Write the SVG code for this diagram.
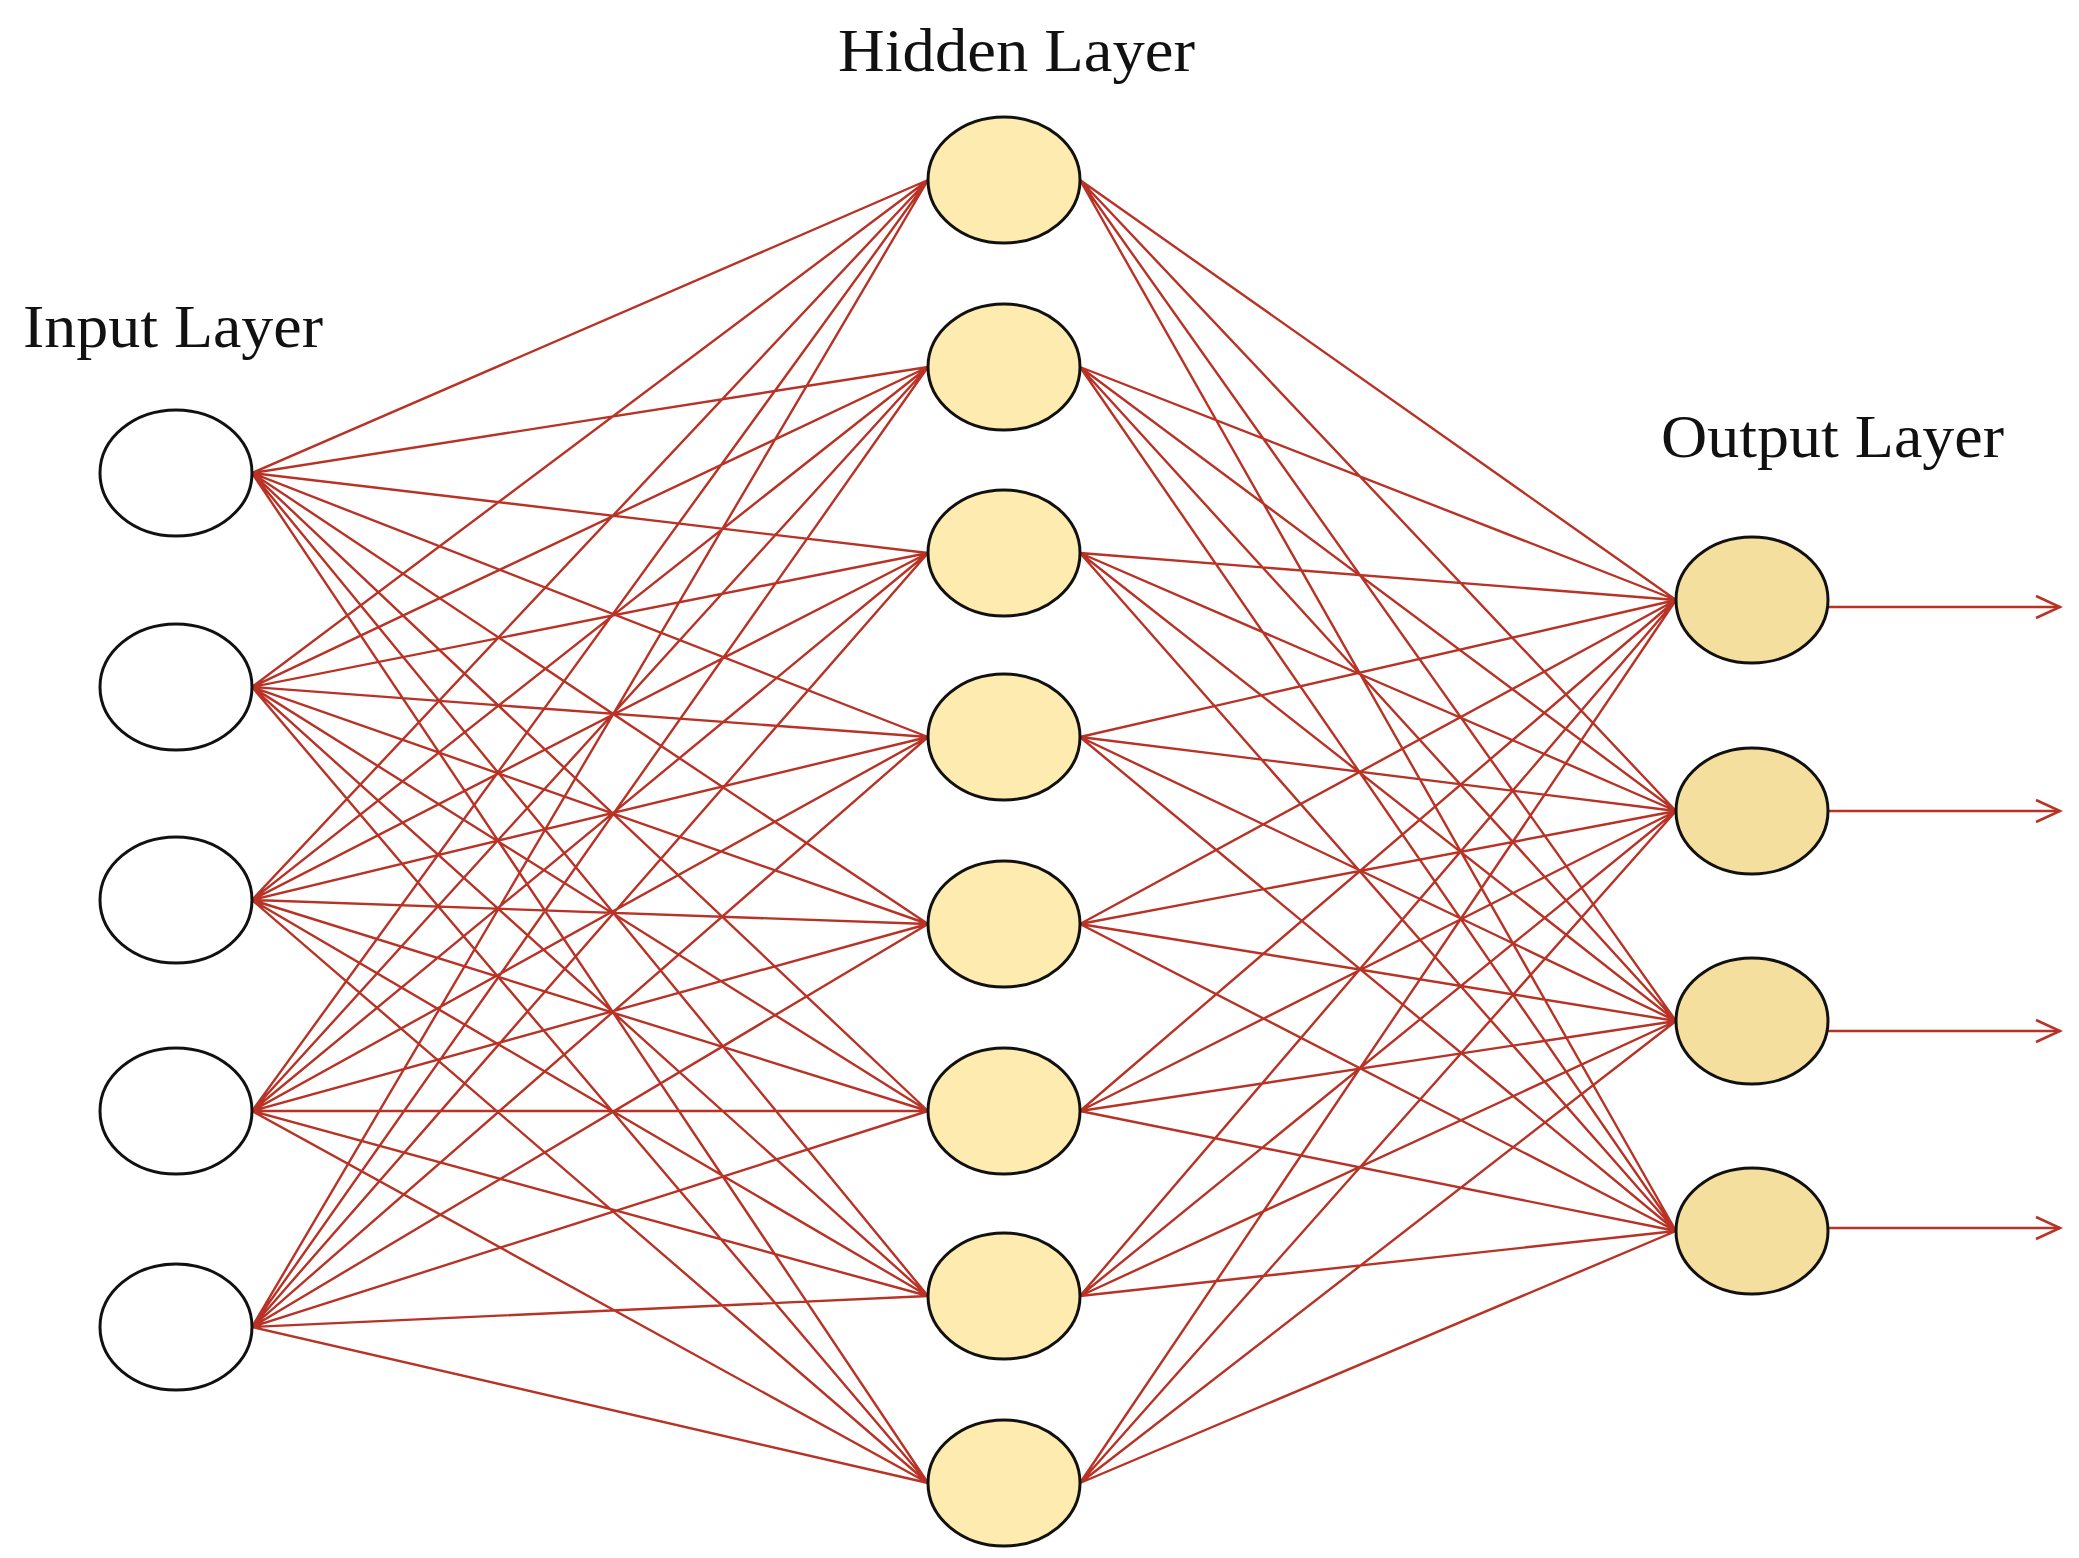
<svg xmlns="http://www.w3.org/2000/svg" width="2079" height="1558" viewBox="0 0 2079 1558">
<style>
.e{stroke:#b83226;stroke-width:2.4;fill:none}
.n{stroke:#111;stroke-width:3}
.in{fill:#fff}.hd{fill:#fdebb0}.ot{fill:#f5df9e}
text{font-family:"Liberation Serif","Times New Roman",serif;font-size:62px;fill:#111}
</style>
<defs><marker id="a" markerWidth="30" markerHeight="30" refX="26" refY="15" orient="auto" markerUnits="userSpaceOnUse"><path d="M2,4 L26,15 L2,26" fill="none" stroke="#b83226" stroke-width="2.5"/></marker></defs>
<rect width="2079" height="1558" fill="#fff"/>
<g id="connectors">
<path class="e" d="M252,473L928,180M252,473L928,367M252,473L928,553M252,473L928,737M252,473L928,924M252,473L928,1111M252,473L928,1296M252,473L928,1483
M252,687L928,180M252,687L928,367M252,687L928,553M252,687L928,737M252,687L928,924M252,687L928,1111M252,687L928,1296M252,687L928,1483
M252,900L928,180M252,900L928,367M252,900L928,553M252,900L928,737M252,900L928,924M252,900L928,1111M252,900L928,1296M252,900L928,1483
M252,1111L928,180M252,1111L928,367M252,1111L928,553M252,1111L928,737M252,1111L928,924M252,1111L928,1111M252,1111L928,1296M252,1111L928,1483
M252,1327L928,180M252,1327L928,367M252,1327L928,553M252,1327L928,737M252,1327L928,924M252,1327L928,1111M252,1327L928,1296M252,1327L928,1483
M1080,180L1676,600M1080,180L1676,811M1080,180L1676,1021M1080,180L1676,1231
M1080,367L1676,600M1080,367L1676,811M1080,367L1676,1021M1080,367L1676,1231
M1080,553L1676,600M1080,553L1676,811M1080,553L1676,1021M1080,553L1676,1231
M1080,737L1676,600M1080,737L1676,811M1080,737L1676,1021M1080,737L1676,1231
M1080,924L1676,600M1080,924L1676,811M1080,924L1676,1021M1080,924L1676,1231
M1080,1111L1676,600M1080,1111L1676,811M1080,1111L1676,1021M1080,1111L1676,1231
M1080,1296L1676,600M1080,1296L1676,811M1080,1296L1676,1021M1080,1296L1676,1231
M1080,1483L1676,600M1080,1483L1676,811M1080,1483L1676,1021M1080,1483L1676,1231"/>
<line class="e" x1="1828" y1="607" x2="2060" y2="607" marker-end="url(#a)"/>
<line class="e" x1="1828" y1="811" x2="2060" y2="811" marker-end="url(#a)"/>
<line class="e" x1="1828" y1="1031" x2="2060" y2="1031" marker-end="url(#a)"/>
<line class="e" x1="1828" y1="1228" x2="2060" y2="1228" marker-end="url(#a)"/>
</g>
<g id="labels">
<text x="23" y="347" textLength="300" lengthAdjust="spacingAndGlyphs">Input Layer</text>
<text x="838" y="71" textLength="357" lengthAdjust="spacingAndGlyphs">Hidden Layer</text>
<text x="1661" y="457" textLength="343" lengthAdjust="spacingAndGlyphs">Output Layer</text>
</g>
<g id="input-1"><ellipse class="n in" cx="176" cy="473" rx="76" ry="63"/></g>
<g id="input-2"><ellipse class="n in" cx="176" cy="687" rx="76" ry="63"/></g>
<g id="input-3"><ellipse class="n in" cx="176" cy="900" rx="76" ry="63"/></g>
<g id="input-4"><ellipse class="n in" cx="176" cy="1111" rx="76" ry="63"/></g>
<g id="input-5"><ellipse class="n in" cx="176" cy="1327" rx="76" ry="63"/></g>
<g id="hidden-1"><ellipse class="n hd" cx="1004" cy="180" rx="76" ry="63"/></g>
<g id="hidden-2"><ellipse class="n hd" cx="1004" cy="367" rx="76" ry="63"/></g>
<g id="hidden-3"><ellipse class="n hd" cx="1004" cy="553" rx="76" ry="63"/></g>
<g id="hidden-4"><ellipse class="n hd" cx="1004" cy="737" rx="76" ry="63"/></g>
<g id="hidden-5"><ellipse class="n hd" cx="1004" cy="924" rx="76" ry="63"/></g>
<g id="hidden-6"><ellipse class="n hd" cx="1004" cy="1111" rx="76" ry="63"/></g>
<g id="hidden-7"><ellipse class="n hd" cx="1004" cy="1296" rx="76" ry="63"/></g>
<g id="hidden-8"><ellipse class="n hd" cx="1004" cy="1483" rx="76" ry="63"/></g>
<g id="output-1"><ellipse class="n ot" cx="1752" cy="600" rx="76" ry="63"/></g>
<g id="output-2"><ellipse class="n ot" cx="1752" cy="811" rx="76" ry="63"/></g>
<g id="output-3"><ellipse class="n ot" cx="1752" cy="1021" rx="76" ry="63"/></g>
<g id="output-4"><ellipse class="n ot" cx="1752" cy="1231" rx="76" ry="63"/></g>
</svg>
